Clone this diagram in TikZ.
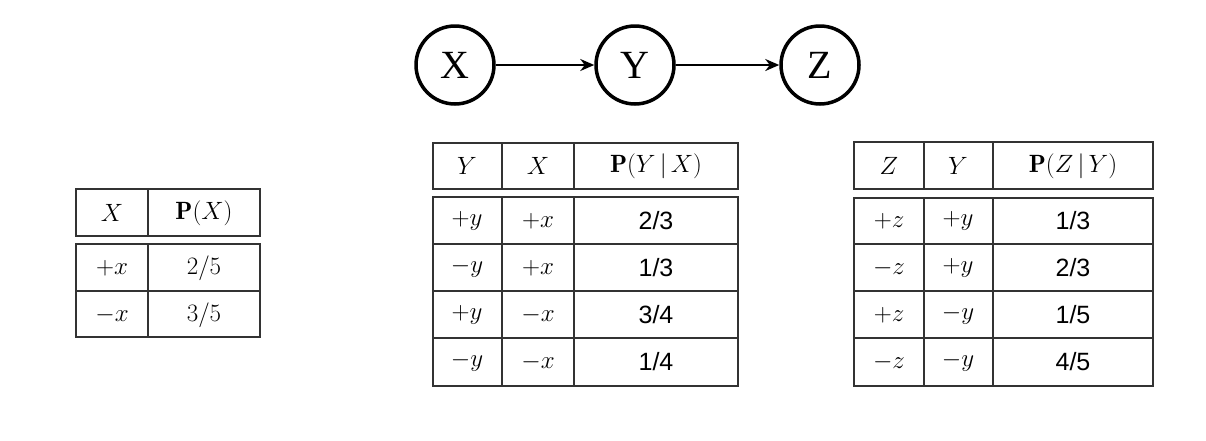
\RequirePackage{fix-cm}
\documentclass[tikz,border=0pt]{standalone}
\usepackage{fontspec}
\usepackage{amsmath}
\newfontfamily\frfont{Liberation Sans}
\newfontfamily\circfont{Liberation Serif}
\usetikzlibrary{arrows.meta}
\begin{document}
\begin{tikzpicture}[x=1pt,y=-1pt,
  grid/.style={line width=1.2pt,draw=black!80},
  cell/.style={inner sep=0pt,font=\fontsize{25}{29}\selectfont},
  fr/.style={inner sep=0pt,font=\fontsize{25}{29}\selectfont\frfont},
  var/.style={circle,draw,line width=3.5pt,minimum size=78pt,inner sep=0pt,font=\fontsize{40}{44}\selectfont\circfont},
  arr/.style={line width=2.4pt,-{Stealth[length=14pt,width=12pt]}}]
\useasboundingbox (0,0) rectangle (1206,440);
% network
\node[var] (X) at (455,65) {X};
\node[var] (Y) at (635,65) {Y};
\node[var] (Z) at (820,65) {Z};
\draw[arr] (X) -- (Y);
\draw[arr] (Y) -- (Z);
% left table
\draw[grid] (76,189) rectangle (260,236);
\draw[grid] (148,189) -- (148,236);
\draw[grid] (76,244) rectangle (260,337);
\draw[grid] (148,244) -- (148,337) (76,291) -- (260,291);
\node[cell] (lh1) at (112,213) {$X$};
\node[cell] (lh2) at (204,213) {$\mathbf{P}(X)$};
\node[cell] (l11) at (112,268) {$+x$};
\node[cell] (l12) at (204,268) {$2/5$};
\node[cell] (l21) at (112,315) {$-x$};
\node[cell] (l22) at (204,315) {$3/5$};
% middle table
\draw[grid] (433,143) rectangle (738,189);
\draw[grid] (502,143) -- (502,189) (574,143) -- (574,189);
\draw[grid] (433,197) rectangle (738,386);
\draw[grid] (502,197) -- (502,386) (574,197) -- (574,386);
\draw[grid] (433,244) -- (738,244) (433,291) -- (738,291) (433,338) -- (738,338);
\node[cell] (mh1) at (467,166) {$Y$};
\node[cell] (mh2) at (538,166) {$X$};
\node[cell] (mh3) at (656,166) {$\mathbf{P}(Y\,|\,X)$};
\node[cell] (m11) at (467,221) {$+y$};
\node[cell] (m12) at (538,221) {$+x$};
\node[fr]   (m13) at (656,221) {2/3};
\node[cell] (m21) at (467,268) {$-y$};
\node[cell] (m22) at (538,268) {$+x$};
\node[fr]   (m23) at (656,268) {1/3};
\node[cell] (m31) at (467,315) {$+y$};
\node[cell] (m32) at (538,315) {$-x$};
\node[fr]   (m33) at (656,315) {3/4};
\node[cell] (m41) at (467,362) {$-y$};
\node[cell] (m42) at (538,362) {$-x$};
\node[fr]   (m43) at (656,362) {1/4};
% right table
\draw[grid] (854,142) rectangle (1153,189);
\draw[grid] (924,142) -- (924,189) (993,142) -- (993,189);
\draw[grid] (854,198) rectangle (1153,386);
\draw[grid] (924,198) -- (924,386) (993,198) -- (993,386);
\draw[grid] (854,244) -- (1153,244) (854,291) -- (1153,291) (854,338) -- (1153,338);
\node[cell] (rh1) at (889,166) {$Z$};
\node[cell] (rh2) at (958,166) {$Y$};
\node[cell] (rh3) at (1073,166) {$\mathbf{P}(Z\,|\,Y)$};
\node[cell] (r11) at (889,221) {$+z$};
\node[cell] (r12) at (958,221) {$+y$};
\node[fr]   (r13) at (1073,221) {1/3};
\node[cell] (r21) at (889,268) {$-z$};
\node[cell] (r22) at (958,268) {$+y$};
\node[fr]   (r23) at (1073,268) {2/3};
\node[cell] (r31) at (889,315) {$+z$};
\node[cell] (r32) at (958,315) {$-y$};
\node[fr]   (r33) at (1073,315) {1/5};
\node[cell] (r41) at (889,362) {$-z$};
\node[cell] (r42) at (958,362) {$-y$};
\node[fr]   (r43) at (1073,362) {4/5};
\end{tikzpicture}
\end{document}
